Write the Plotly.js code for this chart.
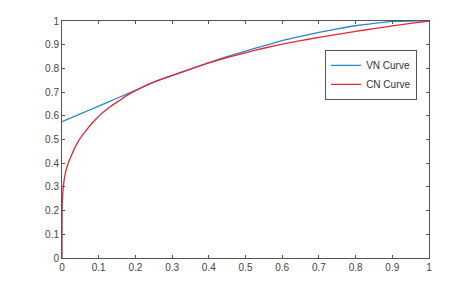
<!DOCTYPE html>
<html>
<head>
<meta charset="utf-8">
<script src="https://cdn.plot.ly/plotly-3.0.1.min.js"></script>
<style>html,body{margin:0;padding:0;background:#fff;}#chart{width:474px;height:291px;}</style>
</head>
<body>
<div id="chart"></div>
<script>
var vnX = [0, 0.05, 0.1, 0.15, 0.2125, 0.25, 0.3, 0.35, 0.4, 0.45, 0.5, 0.55, 0.6, 0.65, 0.7, 0.75, 0.8, 0.85, 0.9, 0.95, 1.0];
var vnY = [0.575, 0.608, 0.641, 0.674, 0.716, 0.742, 0.769, 0.797, 0.824, 0.85, 0.873, 0.895, 0.917, 0.935, 0.952, 0.967, 0.98, 0.99, 0.998, 1.0, 1.0];
var cnX = [0, 0.0003, 0.001, 0.002, 0.0036, 0.007, 0.011, 0.017, 0.025, 0.031, 0.038, 0.046, 0.055, 0.065, 0.075, 0.085, 0.095, 0.105, 0.118, 0.131, 0.155, 0.176, 0.2125, 0.25, 0.294, 0.35, 0.4, 0.45, 0.5, 0.55, 0.6, 0.65, 0.7, 0.75, 0.8, 0.85, 0.9, 0.95, 1.0];
var cnY = [0, 0.2, 0.24, 0.27, 0.30, 0.34, 0.37, 0.40, 0.43, 0.452, 0.474, 0.496, 0.516, 0.536, 0.556, 0.574, 0.59, 0.605, 0.622, 0.638, 0.663, 0.685, 0.716, 0.742, 0.767, 0.797, 0.823, 0.846, 0.866, 0.885, 0.902, 0.917, 0.931, 0.944, 0.956, 0.968, 0.979, 0.99, 1.0];
var tickVals = [0, 0.1, 0.2, 0.3, 0.4, 0.5, 0.6, 0.7, 0.8, 0.9, 1];
var tickText = ['0', '0.1', '0.2', '0.3', '0.4', '0.5', '0.6', '0.7', '0.8', '0.9', '1'];

var traces = [
  {x: vnX, y: vnY, mode: 'lines', name: 'VN Curve', line: {color: '#2a86c4', width: 1.3, shape: 'spline', smoothing: 0.6}},
  {x: cnX, y: cnY, mode: 'lines', name: 'CN Curve', line: {color: '#e0283a', width: 1.3, shape: 'spline', smoothing: 0.6}}
];
var axisCommon = {
  range: [0, 1], tickvals: tickVals, ticktext: tickText,
  ticks: 'inside', ticklen: 3, tickcolor: '#555', tickwidth: 1,
  showline: true, linecolor: '#555', linewidth: 1, mirror: 'ticks',
  showgrid: false, zeroline: false,
  tickfont: {family: 'Liberation Sans, Arial, sans-serif', size: 10, color: '#444'}
};
var layout = {
  width: 474, height: 291,
  margin: {l: 62, r: 45, t: 21, b: 33},
  paper_bgcolor: '#fff', plot_bgcolor: '#fff',
  xaxis: Object.assign({}, axisCommon),
  yaxis: Object.assign({}, axisCommon),
  showlegend: true,
  legend: {x: 0.717, y: 0.878, xanchor: 'left', yanchor: 'top',
    bgcolor: '#fff', bordercolor: '#555', borderwidth: 1,
    font: {family: 'Liberation Sans, Arial, sans-serif', size: 10, color: '#333'},
    itemwidth: 30, tracegroupgap: 0}
};
Plotly.newPlot('chart', traces, layout, {staticPlot: true, displayModeBar: false});
</script>
</body>
</html>
